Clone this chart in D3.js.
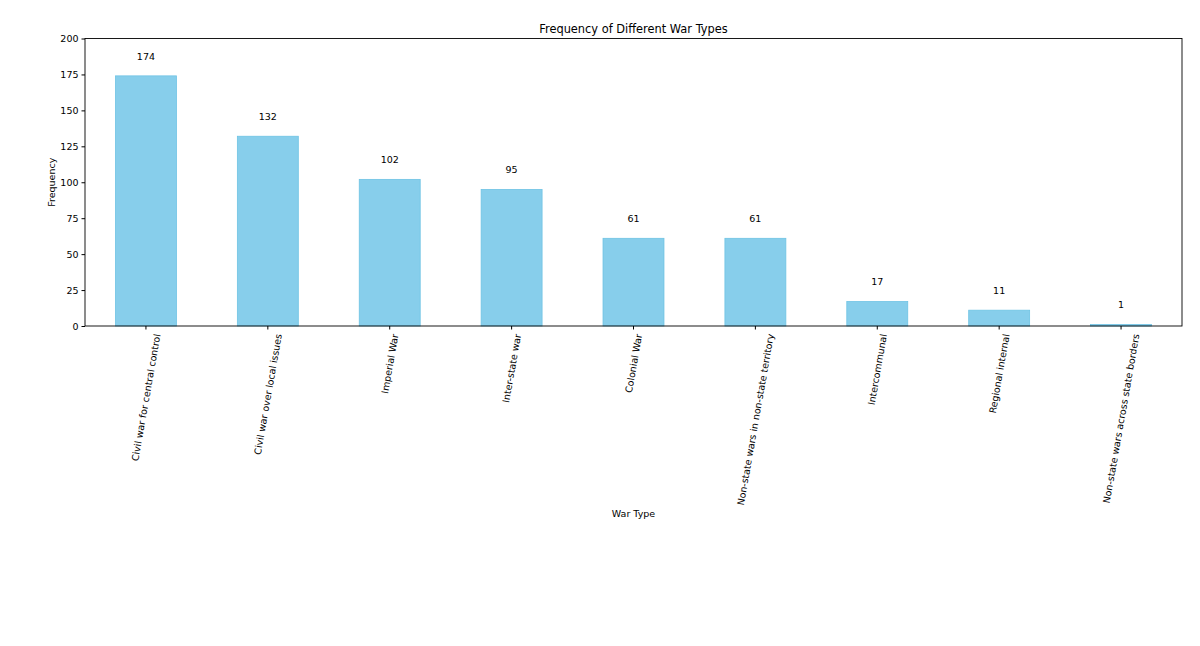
<!DOCTYPE html>
<html>
<head>
<meta charset="utf-8">
<script src="https://cdn.jsdelivr.net/npm/d3@7"></script>
<style>
  body { margin: 0; background: #fff; }
  svg { display: block; font-family: 'DejaVu Sans', sans-serif; }
</style>
</head>
<body>
<figure style="margin:0"></figure>
<script>
const warTypes = [
  'Civil war for central control',
  'Civil war over local issues',
  'Imperial War',
  'Inter-state war',
  'Colonial War',
  'Non-state wars in non-state territory',
  'Intercommunal',
  'Regional internal',
  'Non-state wars across state borders'
]
const counts = [174, 132, 102, 95, 61, 61, 17, 11, 1]
const yTicks = [0, 25, 50, 75, 100, 125, 150, 175, 200]

const width = 1200
const height = 646
const margin = { top: 38.5, right: 18, bottom: 320, left: 85 }
const fs = 9.5
const angle = 80

const svg = d3.select('figure').append('svg')
  .attr('width', width)
  .attr('height', height)

const x = d3.scaleBand()
  .domain(warTypes)
  .range([margin.left, width - margin.right])
  .paddingInner(0.5)
  .paddingOuter(0.25)

const y = d3.scaleLinear()
  .domain([0, 200])
  .range([height - margin.bottom, margin.top])

const plotBottom = y(0)

// bars
svg.append('g')
  .selectAll('rect')
  .data(counts)
  .join('rect')
  .attr('x', (d, i) => x(warTypes[i]))
  .attr('y', d => y(d))
  .attr('width', x.bandwidth())
  .attr('height', d => plotBottom - y(d))
  .attr('fill', '#87CEEB')
  .attr('stroke', '#6ec3e4')
  .attr('stroke-width', 0.8)

// value labels
svg.append('g')
  .selectAll('text')
  .data(counts)
  .join('text')
  .attr('x', (d, i) => x(warTypes[i]) + x.bandwidth() / 2)
  .attr('y', d => y(d + 10) - 2)
  .attr('text-anchor', 'middle')
  .attr('font-size', fs)
  .attr('fill', '#000')
  .text(d => d)

// y axis
const yAxis = svg.append('g')
  .attr('transform', `translate(${margin.left},0)`)
  .call(d3.axisLeft(y).tickValues(yTicks).tickSize(3.5).tickPadding(3))
yAxis.select('.domain').remove()
yAxis.selectAll('text').attr('font-size', fs).attr('font-family', 'DejaVu Sans').attr('fill', '#000')
yAxis.selectAll('line').attr('stroke', '#000')

// x axis ticks
const xAxis = svg.append('g')
  .attr('transform', `translate(0,${plotBottom})`)
  .call(d3.axisBottom(x).tickSize(3.5).tickFormat(''))
xAxis.select('.domain').remove()
xAxis.selectAll('line').attr('stroke', '#000')

// rotated x tick labels, bbox centred on the tick
const rot = angle * Math.PI / 180
const labelTop = plotBottom + 3.5 + 3.5
let maxBottom = labelTop
const xl = svg.append('g')
xl.selectAll('text')
  .data(warTypes)
  .join('text')
  .attr('font-size', fs)
  .attr('text-anchor', 'middle')
  .attr('dominant-baseline', 'central')
  .attr('fill', '#000')
  .text(d => d)
  .each(function (d) {
    const w = this.getComputedTextLength()
    const h = fs * 1.17
    const bh = w * Math.sin(rot) + h * Math.cos(rot)
    const cx = x(d) + x.bandwidth() / 2
    const cy = labelTop + bh / 2
    maxBottom = Math.max(maxBottom, labelTop + bh)
    d3.select(this)
      .attr('x', 0).attr('y', 0)
      .attr('transform', `translate(${cx},${cy}) rotate(${-angle})`)
  })

// frame
svg.append('rect')
  .attr('x', margin.left)
  .attr('y', margin.top)
  .attr('width', width - margin.right - margin.left)
  .attr('height', plotBottom - margin.top)
  .attr('fill', 'none')
  .attr('stroke', '#000')
  .attr('stroke-width', 0.9)

// titles
svg.append('text')
  .attr('x', (margin.left + width - margin.right) / 2)
  .attr('y', margin.top - 6)
  .attr('text-anchor', 'middle')
  .attr('font-size', 11.4)
  .text('Frequency of Different War Types')

svg.append('text')
  .attr('x', (margin.left + width - margin.right) / 2)
  .attr('y', maxBottom + 3.5)
  .attr('dominant-baseline', 'hanging')
  .attr('text-anchor', 'middle')
  .attr('font-size', fs)
  .text('War Type')

svg.append('text')
  .attr('transform', `translate(55,${(margin.top + plotBottom) / 2}) rotate(-90)`)
  .attr('text-anchor', 'middle')
  .attr('font-size', fs)
  .text('Frequency')
</script>
</body>
</html>
